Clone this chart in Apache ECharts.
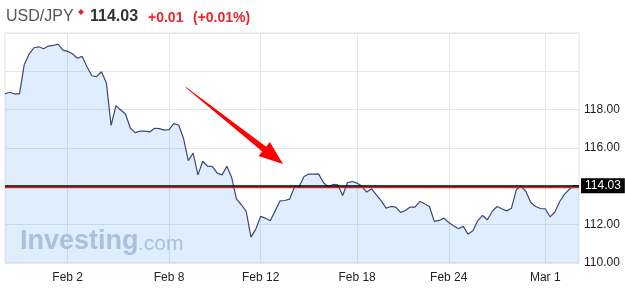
<!DOCTYPE html>
<html>
<head>
<meta charset="utf-8">
<script src="https://cdn.jsdelivr.net/npm/echarts@6/dist/echarts.min.js"></script>
<style>
html,body{margin:0;padding:0;background:#fff;}
#chart{width:625px;height:288px;}
</style>
</head>
<body>
<div id="chart"></div>
<script>
// USD/JPY intraday closes (approx. 4-5 hour samples)
const prices = [
118.83,118.91,118.82,118.82,120.36,120.90,121.23,121.28,121.18,121.32,
121.35,121.42,121.11,121.04,120.92,120.68,120.78,120.24,119.77,119.72,
119.98,119.41,117.18,118.21,117.98,117.76,117.03,116.80,116.88,116.88,
116.84,117.03,117.01,116.93,116.96,117.27,117.20,116.51,115.34,115.73,
114.60,115.31,115.05,115.03,114.69,114.60,115.05,114.46,113.33,113.04,
112.69,111.35,111.77,112.43,112.34,112.20,112.72,113.24,113.26,113.33,
113.96,113.99,114.51,114.64,114.64,114.65,114.20,113.96,114.10,114.08,
113.52,114.20,114.25,114.17,113.99,113.70,113.87,113.56,113.24,112.86,
112.95,112.92,112.64,112.74,112.92,112.92,113.21,113.09,112.95,112.17,
112.22,112.34,112.11,111.94,111.79,111.91,111.51,111.68,112.20,112.48,
112.26,112.69,112.95,112.83,112.72,112.86,113.82,114.01,113.73,113.16,
112.95,112.84,112.83,112.41,112.66,113.21,113.59,113.85,114.04,114.03
];
// sample index where each date tick falls, and its label
const tickIndex = [13, 34, 53, 73, 92, 112];
const tickLabels = ['Feb 2', 'Feb 8', 'Feb 12', 'Feb 18', 'Feb 24', 'Mar 1'];
const yLabelValues = [110, 112, 116, 118];
const lastPrice = 114.03;
const change = '+0.01';
const changePct = '(+0.01%)';
const symbol = 'USD/JPY';

const categories = prices.map((_, i) => {
  const k = tickIndex.indexOf(i);
  return k >= 0 ? tickLabels[k] : ' ';
});
const isTick = (i) => tickIndex.indexOf(i) >= 0;

const FONT = '"Liberation Sans", Arial, sans-serif';
const chart = echarts.init(document.getElementById('chart'), null, {renderer: 'canvas'});

chart.setOption({
  animation: false,
  backgroundColor: '#ffffff',
  grid: {left: 5, right: 46, top: 33, bottom: 25, show: true, borderColor: '#e3e3e3', borderWidth: 1, backgroundColor: 'transparent'},
  xAxis: {
    type: 'category',
    data: categories,
    boundaryGap: false,
    axisLine: {show: false},
    axisTick: {show: false},
    axisLabel: {
      interval: (i) => isTick(i),
      color: '#222',
      fontFamily: FONT,
      fontSize: 12,
      margin: 9
    },
    splitLine: {show: true, interval: (i) => isTick(i), lineStyle: {color: '#e3e6ea', width: 1}}
  },
  yAxis: {
    type: 'value',
    position: 'right',
    min: 110, max: 122, interval: 2,
    axisLine: {show: false},
    axisTick: {show: false},
    axisLabel: {
      formatter: (v) => yLabelValues.indexOf(v) >= 0 ? v.toFixed(2) : '',
      color: '#222',
      fontFamily: FONT,
      fontSize: 12,
      margin: 5,
      align: 'left'
    },
    splitLine: {show: true, lineStyle: {color: '#e3e6ea', width: 1}}
  },
  series: [{
    type: 'line',
    data: prices,
    symbol: 'none',
    smooth: false,
    lineStyle: {color: '#3c4878', width: 1.2},
    areaStyle: {color: 'rgba(95,165,245,0.28)', origin: 'start'},
    markLine: {
      silent: true,
      symbol: ['none', 'none'],
      animation: false,
      data: [{yAxis: lastPrice}],
      lineStyle: {color: '#000', width: 1.5, type: 'solid', shadowColor: '#e02020', shadowOffsetY: 1.5, shadowBlur: 0},
      label: {
        show: true,
        position: 'end',
        distance: 2,
        formatter: () => lastPrice.toFixed(2),
        color: '#fff',
        backgroundColor: '#000',
        fontFamily: FONT,
        fontSize: 12,
        padding: [2, 4, 1, 4]
      }
    }
  }],
  graphic: [
    {type: 'text', left: 6, top: 9, style: {text: symbol, font: '16px ' + FONT, fill: '#555'}},
    {type: 'polygon', shape: {points: [[81, 9], [84, 12], [81, 15], [78, 12]]}, style: {fill: '#e8262b'}},
    {type: 'text', left: 90, top: 9, style: {text: lastPrice.toFixed(2), font: 'bold 16px ' + FONT, fill: '#333'}},
    {type: 'text', left: 148, top: 11, style: {text: change, font: 'bold 14px ' + FONT, fill: '#e8262b'}},
    {type: 'text', left: 193, top: 11, style: {text: changePct, font: 'bold 14px ' + FONT, fill: '#e8262b'}},
    {type: 'text', left: 20, top: 228, z: 1, style: {text: 'Investing', font: 'bold 27px ' + FONT, fill: '#bcc7d6'}},
    {type: 'text', left: 138, top: 234, z: 1, style: {text: '.com', font: '21px ' + FONT, fill: '#bcc7d6'}},
    {type: 'polygon', z: 10, shape: {points: [[186, 87], [266.1, 146.8], [269.8, 142.1], [283, 164], [258.6, 156.1], [262.3, 151.4], [185.5, 87.6]]}, style: {fill: '#ff0000'}}
  ]
});
</script>
</body>
</html>
